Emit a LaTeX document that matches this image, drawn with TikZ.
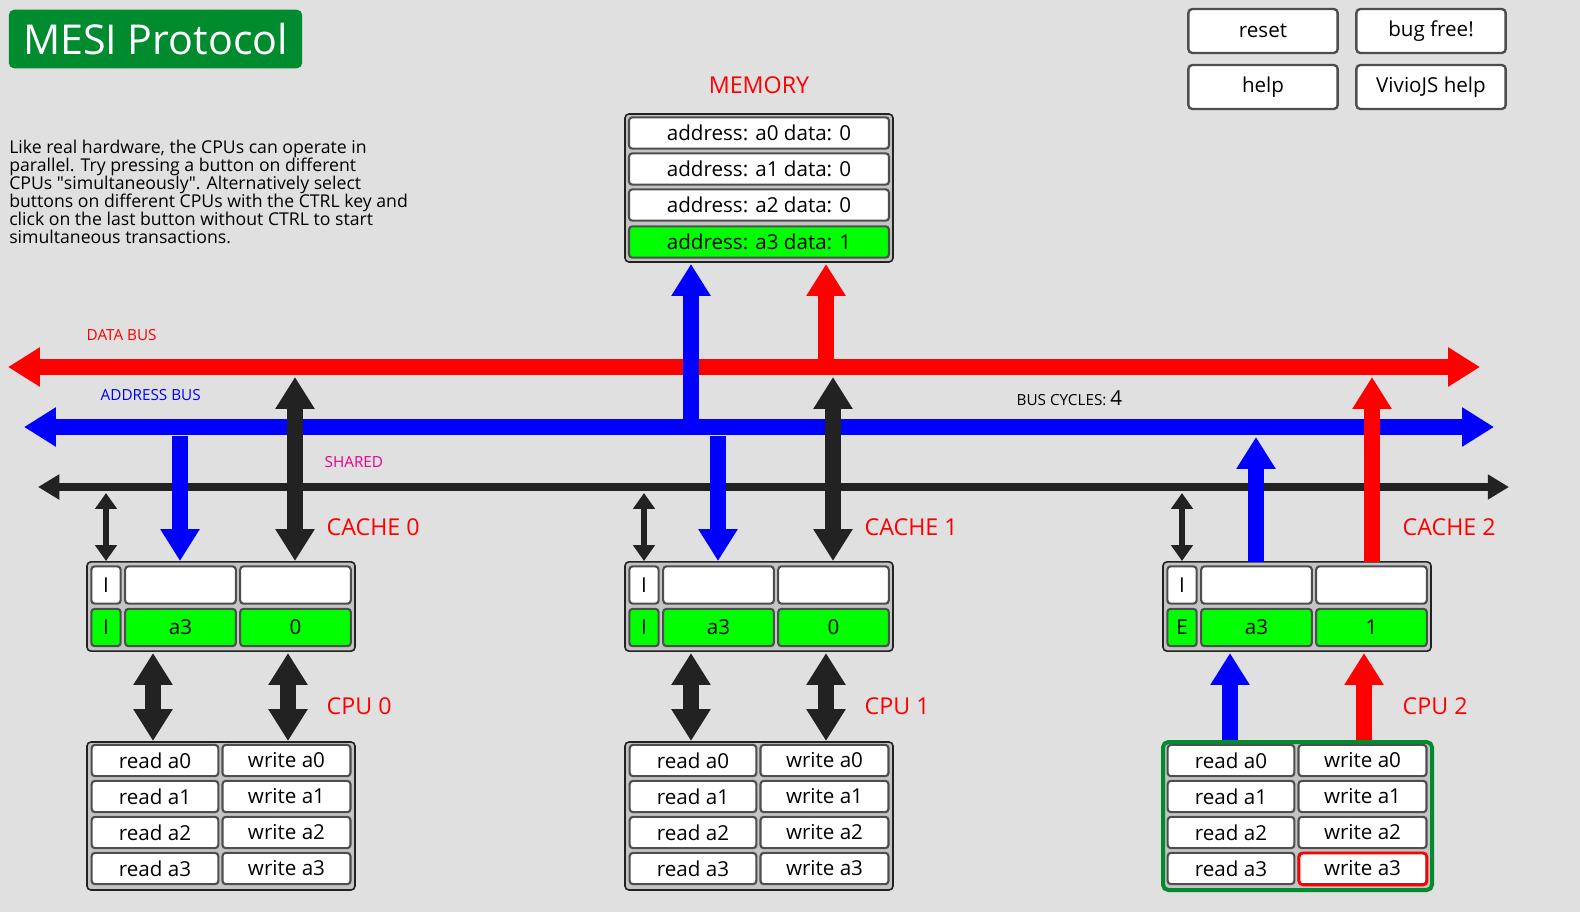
\documentclass[tikz,border=0pt]{standalone}
\usepackage{fontspec}
\setmainfont{Open Sans}
\usetikzlibrary{arrows.meta}
\definecolor{bg}{HTML}{E0E0E0}
\definecolor{boxg}{HTML}{C4C4C4}
\definecolor{dk}{HTML}{222222}
\definecolor{grn}{HTML}{00FF00}
\definecolor{tgreen}{HTML}{008C2E}
\definecolor{bblue}{HTML}{0000FF}
\begin{document}
\begin{tikzpicture}[x=0.75bp,y=-0.75bp,
 panel/.style={draw=dk,fill=boxg,rounded corners=3pt,line width=1.2pt},
 cell/.style={draw=dk!80,fill=white,rounded corners=2.5pt,line width=1.6pt,font=\fontsize{15.5}{15.5}\selectfont},
 btn/.style={draw=dk!80,fill=white,rounded corners=3pt,line width=1.8pt,font=\fontsize{15.5}{15.5}\selectfont},
 big/.style={line width=12pt,-{Triangle[length=24pt,width=28pt]}},
 bigd/.style={line width=12pt,{Triangle[length=24pt,width=28pt]}-{Triangle[length=24pt,width=28pt]}},
 sml/.style={line width=4.5pt,color=dk,{Triangle[length=12pt,width=16pt]}-{Triangle[length=12pt,width=16pt]}},
 lbl/.style={text=red,font=\fontsize{17.5}{17.5}\selectfont,anchor=west},
 bus/.style={font=\fontsize{11.5}{11.5}\selectfont,anchor=west}]
\fill[bg] (0,0) rectangle (1580,912);
\useasboundingbox (0,0) rectangle (1580,912);
% title
\node[fill=tgreen,rounded corners=4pt,minimum width=220bp,minimum height=44bp,text=white,font=\fontsize{31}{31}\selectfont] (title) at (155.5,39) {MESI Protocol};
% buttons
\node[btn,minimum width=112bp,minimum height=33bp] (reset) at (1263,31) {reset};
\node[btn,minimum width=112bp,minimum height=33bp] (bugfree) at (1431,31) {bug free!};
\node[btn,minimum width=112bp,minimum height=33bp] (help) at (1263,87) {help};
\node[btn,minimum width=112bp,minimum height=33bp] (vhelp) at (1431,87) {VivioJS help};
% text
\node[anchor=north west,align=left,font=\fontsize{13.3}{13.5}\selectfont,inner sep=0pt] (para) at (9,140) {Like real hardware, the CPUs can operate in\\parallel. Try pressing a button on different\\CPUs \textquotedbl simultaneously\textquotedbl. Alternatively select\\buttons on different CPUs with the CTRL key and\\click on the last button without CTRL to start\\simultaneous transactions.};
% memory
\node[text=red,font=\fontsize{17.5}{17.5}\selectfont] (memlbl) at (759,85) {MEMORY};
\node[panel,minimum width=201bp,minimum height=111bp] (mem) at (759,188) {};
\foreach \i/\y/\c in {0/133/white,1/169/white,2/205/white,3/242/grn}{
 \node[cell,fill=\c,minimum width=195bp,minimum height=23.5bp] (m\i) at (759,\y) {address: a\i\ data: \ifnum\i=3 1\else 0\fi};}
% buses
\draw[red,line width=12pt,{Triangle[length=24pt,width=28pt]}-{Triangle[length=24pt,width=28pt]}] (8,367) coordinate(db1) -- (1480,367) coordinate(db2);
\draw[bblue,line width=12pt,{Triangle[length=24pt,width=28pt]}-{Triangle[length=24pt,width=28pt]}] (24,427) coordinate(ab1) -- (1494,427) coordinate(ab2);
\draw[dk,line width=6pt,{Triangle[length=16pt,width=18pt]}-{Triangle[length=16pt,width=18pt]}] (38,487) coordinate(sb1) -- (1509,487) coordinate(sb2);
\node[bus,text=red] (dbl) at (82,335) {DATA BUS};
\node[bus,text=bblue] (abl) at (96,395) {ADDRESS BUS};
\node[bus,text=magenta] (sbl) at (320,462) {SHARED};
\node[bus] (cyc) at (1012,398) {BUS CYCLES: \fontsize{15.5}{15.5}\selectfont 4};
% memory arrows
\draw[big,bblue] (691,419) -- (691,264);
\draw[big,red] (826,359) -- (826,264);
% caches and cpus
\foreach \k/\ox/\st/\va/\vd in {0/0/I/a3/0,1/538/I/a3/0,2/1076/E/a3/1}{
 \begin{scope}[xshift=\ox*0.75bp]
 \node[panel,minimum width=201bp,minimum height=67bp] (cache\k) at (221,606.5) {};
 \node[cell,minimum width=22bp,minimum height=28bp] (c\k s1) at (106,585) {I};
 \node[cell,minimum width=83bp,minimum height=28bp] (c\k a1) at (180.5,585) {};
 \node[cell,minimum width=83bp,minimum height=28bp] (c\k d1) at (295.5,585) {};
 \node[cell,fill=grn,minimum width=22bp,minimum height=28bp] (c\k s2) at (106,627.5) {\st};
 \node[cell,fill=grn,minimum width=83bp,minimum height=28bp] (c\k a2) at (180.5,627.5) {\va};
 \node[cell,fill=grn,minimum width=83bp,minimum height=28bp] (c\k d2) at (295.5,627.5) {\vd};
 \node[lbl] (cl\k) at (322,527) {CACHE \k};
 \node[lbl] (pl\k) at (322,706) {CPU \k};
 \node[panel,minimum width=201bp,minimum height=111bp] (cpu\k) at (221,816) {};
 \foreach \r/\y in {0/760.5,1/796.5,2/832.5,3/868.5}{
  \node[cell,minimum width=95bp,minimum height=23.5bp] (r\k\r) at (155,\y) {read a\r};
  \node[cell,minimum width=96bp,minimum height=23.5bp] (w\k\r) at (286.5,\y) {write a\r};}
 \draw[sml] (106,493) -- (106,561);
 \end{scope}}
% cache 0/1 arrows
\foreach \ox in {0,538}{
 \begin{scope}[xshift=\ox*0.75bp]
 \draw[big,bblue] (180,436) -- (180,561);
 \draw[bigd,dk] (295,377) -- (295,561);
 \draw[bigd,dk] (153,653) -- (153,741);
 \draw[bigd,dk] (288,653) -- (288,741);
 \end{scope}}
% cache 2 arrows
\draw[big,bblue] (1256,562) -- (1256,437);
\draw[big,red] (1372,562) -- (1372,377);
\draw[big,bblue] (1230,741) -- (1230,653);
\draw[big,red] (1364,741) -- (1364,653);
% cpu2 highlight
\draw[tgreen,line width=3pt,rounded corners=4pt] (1163,742) rectangle (1432,890);
\draw[red,line width=2pt,rounded corners=3pt] (1299,853) rectangle (1427,885);
\end{tikzpicture}
\end{document}
